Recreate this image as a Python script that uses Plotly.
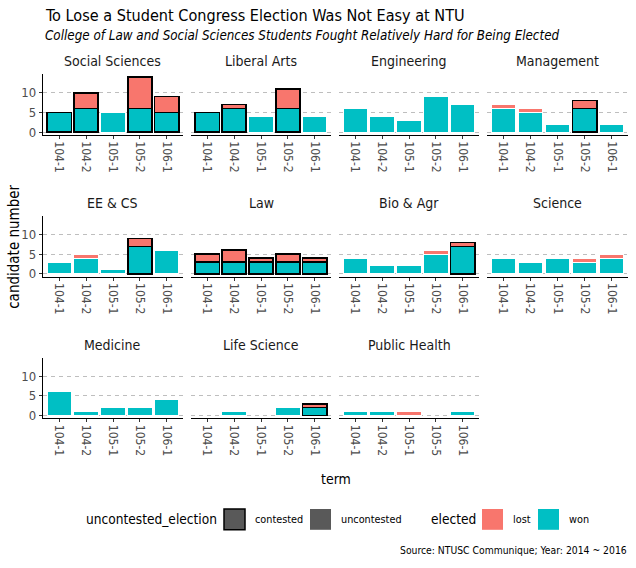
import plotly.graph_objects as go

terms = ["104-1", "104-2", "105-1", "105-2", "106-1"]
terms_ph = ["104-1", "104-2", "105-1", "105-5", "106-1"]
colleges = ["Social Sciences", "Liberal Arts", "Engineering", "Management",
            "EE & CS", "Law", "Bio & Agr", "Science",
            "Medicine", "Life Science", "Public Health"]

won = {
    "Social Sciences": [5, 6, 5, 6, 5],
    "Liberal Arts": [5, 6, 4, 6, 4],
    "Engineering": [6, 4, 3, 9, 7],
    "Management": [6, 5, 2, 6, 2],
    "EE & CS": [3, 4, 1, 7, 6],
    "Law": [3, 3, 3, 3, 3],
    "Bio & Agr": [4, 2, 2, 5, 7],
    "Science": [4, 3, 4, 3, 4],
    "Medicine": [6, 1, 2, 2, 4],
    "Life Science": [0, 1, 0, 2, 2],
    "Public Health": [1, 1, 0, 0, 1],
}
lost = {
    "Social Sciences": [0, 4, 0, 8, 4],
    "Liberal Arts": [0, 1, 0, 5, 0],
    "Engineering": [0, 0, 0, 0, 0],
    "Management": [1, 1, 0, 2, 0],
    "EE & CS": [0, 1, 0, 2, 0],
    "Law": [2, 3, 1, 2, 1],
    "Bio & Agr": [0, 0, 0, 1, 1],
    "Science": [0, 0, 0, 1, 1],
    "Medicine": [0, 0, 0, 0, 0],
    "Life Science": [0, 0, 0, 0, 1],
    "Public Health": [0, 0, 1, 0, 0],
}
# 1 = contested, 0 = uncontested
contested = {
    "Social Sciences": [1, 1, 0, 1, 1],
    "Liberal Arts": [1, 1, 0, 1, 0],
    "Engineering": [0, 0, 0, 0, 0],
    "Management": [0, 0, 0, 1, 0],
    "EE & CS": [0, 0, 0, 1, 0],
    "Law": [1, 1, 1, 1, 1],
    "Bio & Agr": [0, 0, 0, 0, 1],
    "Science": [0, 0, 0, 0, 0],
    "Medicine": [0, 0, 0, 0, 0],
    "Life Science": [0, 0, 0, 0, 1],
    "Public Health": [0, 0, 0, 0, 0],
}
legend_titles = ["uncontested_election", "elected"]
legend_labels = ["contested", "uncontested", "lost", "won"]

FONT = "DejaVu Sans Condensed, DejaVu Sans, sans-serif"
W, H = 636, 568
WON_C, LOST_C = "#00BFC4", "#F8766D"
col_px = [(43, 183), (191, 331), (339, 479), (487, 628)]
row_px = [(75, 136), (218, 279), (361, 422)]
strip_y = [62, 205, 348]


def f(size, color="black", family=FONT):
    return dict(family=family, size=size, color=color)


fig = go.Figure()
layout = dict(
    width=W, height=H, margin=dict(l=0, r=0, t=0, b=0),
    paper_bgcolor="white", plot_bgcolor="white",
    barmode="stack", bargap=0.1, showlegend=False,
    font=f(12),
    annotations=[], shapes=[],
)

for i, col in enumerate(colleges):
    r, c = divmod(i, 4)
    k = "" if i == 0 else str(i + 1)
    cats = terms_ph if col == "Public Health" else terms
    for vals, colr in ((won[col], WON_C), (lost[col], LOST_C)):
        for flag in (1, 0):
            ys = [v if (contested[col][j] == flag and v > 0) else None for j, v in enumerate(vals)]
            fig.add_trace(go.Bar(
                x=cats, y=ys, xaxis="x" + k, yaxis="y" + k,
                marker=dict(color=colr,
                            line=dict(color="black" if flag else "white",
                                      width=1.5 if flag else 1)),
                showlegend=False, hoverinfo="x+y",
            ))
    x0, x1 = col_px[c]
    y0, y1 = row_px[r]
    layout["xaxis" + k] = dict(
        domain=[x0 / W, x1 / W], anchor="y" + k, type="category",
        categoryorder="array", categoryarray=cats, range=[-0.6, 4.6],
        showline=True, linecolor="black", linewidth=1.3,
        ticks="outside", ticklen=3, tickcolor="#333333",
        tickangle=90, tickfont=f(12, "#4D4D4D"),
        showgrid=False, zeroline=False, fixedrange=True,
    )
    layout["yaxis" + k] = dict(
        domain=[1 - y1 / H, 1 - y0 / H], anchor="x" + k,
        range=[-0.7, 14.7], tickvals=[0, 5, 10],
        showgrid=True, gridcolor="#BEBEBE", gridwidth=1, griddash="4px,4px",
        zeroline=False,
        showline=(c == 0), linecolor="black", linewidth=1.3,
        ticks="outside" if c == 0 else "", ticklen=3, tickcolor="#333333",
        showticklabels=(c == 0), tickfont=f(13, "#4D4D4D"),
        fixedrange=True,
    )
    layout["annotations"].append(dict(
        text=col, xref="paper", yref="paper", x=(x0 + x1) / 2 / W, y=1 - strip_y[r] / H,
        xanchor="center", yanchor="middle", showarrow=False,
        font=f(14, "#1A1A1A"),
    ))

# legend (drawn as keys + labels)
ly = 524
key_x = [224, 310, 482, 538]
key_fill = ["#595959", "#595959", LOST_C, WON_C]
key_line = [dict(color="black", width=1.5), dict(width=0), dict(width=0), dict(width=0)]
for lab, kx, kf, kl in zip(legend_labels, key_x, key_fill, key_line):
    layout["shapes"].append(dict(
        type="rect", xref="paper", yref="paper",
        x0=kx / W, x1=(kx + 21) / W, y0=1 - (ly + 10.5) / H, y1=1 - (ly - 10.5) / H,
        fillcolor=kf, line=kl, layer="above",
    ))
    layout["annotations"].append(dict(
        text=lab, xref="paper", yref="paper", x=(kx + 29) / W, y=1 - ly / H,
        xanchor="left", yanchor="middle", showarrow=False, font=f(10.8),
    ))
for t, tx in zip(legend_titles, [84, 429]):
    layout["annotations"].append(dict(
        text=t, xref="paper", yref="paper", x=tx / W, y=1 - ly / H,
        xanchor="left", yanchor="middle", showarrow=False, font=f(13.6),
    ))

layout["annotations"] += [
    dict(text="To Lose a Student Congress Election Was Not Easy at NTU",
         xref="paper", yref="paper", x=43 / W, y=1 - 16 / H, xanchor="left", yanchor="middle",
         showarrow=False, font=f(16.1)),
    dict(text="<i>College of Law and Social Sciences Students Fought Relatively Hard for Being Elected</i>",
         xref="paper", yref="paper", x=43 / W, y=1 - 36 / H, xanchor="left", yanchor="middle",
         showarrow=False, font=f(13.3)),
    dict(text="candidate number", xref="paper", yref="paper", x=14 / W, y=1 - 249 / H,
         xanchor="center", yanchor="middle", textangle=-90, showarrow=False, font=f(15)),
    dict(text="term", xref="paper", yref="paper", x=336 / W, y=1 - 483 / H,
         xanchor="center", yanchor="middle", showarrow=False, font=f(14)),
    dict(text="Source: NTUSC Communique; Year: 2014 ~ 2016", xref="paper", yref="paper",
         x=629 / W, y=1 - 554.5 / H, xanchor="right", yanchor="middle", showarrow=False,
         font=f(10.3)),
]

fig.update_layout(**layout)
fig.write_html("out.html")
